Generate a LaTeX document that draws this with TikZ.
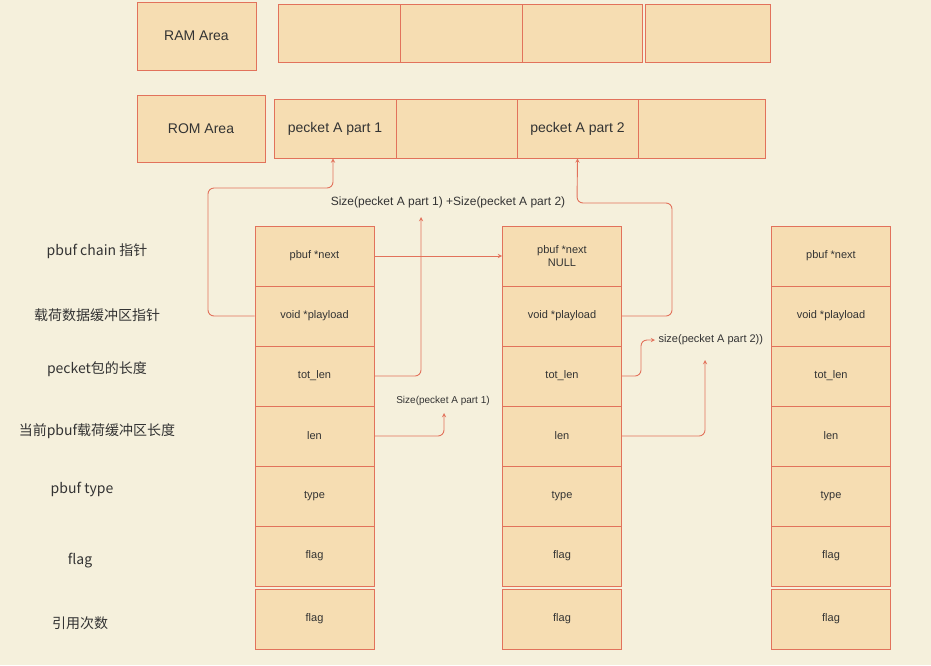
\documentclass[tikz,border=0pt]{standalone}
\usepackage{fontspec}
\setmainfont{Liberation Sans}
\newfontfamily\cjk{Noto Sans CJK SC}
\definecolor{bg}{HTML}{F5F0DC}
\definecolor{bx}{HTML}{F6DDB2}
\definecolor{ln}{HTML}{E2725B}
\definecolor{tx}{HTML}{333333}
\begin{document}
\begin{tikzpicture}[x=1pt,y=-1pt,
 cell/.style={draw=ln,fill=bx,line width=0.9pt,minimum width=119pt,minimum height=60pt,inner sep=0pt,font=\fontsize{11}{13}\selectfont,text=tx},
 blk/.style={draw=ln,fill=bx,line width=0.9pt,inner sep=0pt,font=\fontsize{14}{16}\selectfont,text=tx},
 lab/.style={font=\cjk\fontsize{14}{16}\selectfont,text=tx},
 arr/.style={draw=ln,line width=0.9pt,->,>=stealth,rounded corners=6pt}]
\fill[bg] (0,0) rectangle (931,665);
\useasboundingbox (0,0) rectangle (931,665);
% top areas
\node[blk,minimum width=119pt,minimum height=68pt] (ram) at (196.5,36) {RAM Area};
\foreach \a/\b [count=\i] in {278/400,400/522,522/642,645/770}
  \node[blk,minimum width={\b-\a},minimum height=58pt] (r\i) at ({(\a+\b)/2},33) {};
\node[blk,minimum width=128pt,minimum height=67pt] (rom) at (201,128.5) {ROM Area};
\node[blk,minimum width=122pt,minimum height=59pt] (o1) at (335,128.5) {pecket A part 1};
\node[blk,minimum width=121pt,minimum height=59pt] (o2) at (456.5,128.5) {};
\node[blk,minimum width=121pt,minimum height=59pt] (o3) at (577.5,128.5) {pecket A part 2};
\node[blk,minimum width=127pt,minimum height=59pt] (o4) at (701.5,128.5) {};
% left labels
\node[lab] (l1) at (97,251) {pbuf chain 指针};
\node[lab] (l2) at (97,315) {载荷数据缓冲区指针};
\node[lab] (l3) at (97,369) {pecket包的长度};
\node[lab] (l4) at (97,431) {当前pbuf载荷缓冲区长度};
\node[lab] (l5) at (82,489) {pbuf type};
\node[lab] (l6) at (80,561) {flag};
\node[lab] (l7) at (80,623) {引用次数};
% columns
\foreach \c/\x/\n in {a/314.5/pbuf *next,b/562/{pbuf *next\\NULL},c/831/pbuf *next}{
  \node[cell,align=center] (\c1) at (\x,256) {\n};
  \node[cell] (\c2) at (\x,316) {void *playload};
  \node[cell] (\c3) at (\x,376) {tot\_len};
  \node[cell] (\c4) at (\x,436) {len};
  \node[cell] (\c5) at (\x,496) {type};
  \node[cell] (\c6) at (\x,556) {flag};
  \node[cell] (\c7) at (\x,619) {flag};
}
% labels
\node[font=\fontsize{12}{14}\selectfont,text=tx] (s12) at (448,202) {Size(pecket A part 1) +Size(pecket A part 2)};
\node[font=\fontsize{10}{12}\selectfont,text=tx] (s1) at (443,401) {Size(pecket A part 1)};
\node[font=\fontsize{11}{13}\selectfont,text=tx,anchor=west] (s2) at (655,340) {size(pecket A part 2))};
\coordinate (t1) at (421,217);
\coordinate (t2) at (444,413);
\coordinate (t3) at (705,360);
% connectors
\draw[arr] (a1.east) -- (b1.east -| b1.west);
\draw[arr] (a2.west) -- (208,316) -- (208,188) -- (333,188) -- (o1.south -| 333,0);
\draw[arr] (a3.east) -- (421,376) -- (t1);
\draw[arr] (a4.east) -- (444,436) -- (t2);
\draw[arr] (b2.east) -- (672,316) -- (672,203) -- (577,203) -- (o3.south);
\draw[arr] (b3.east) -- (641,376) -- (641,340) -- (s2.west);
\draw[arr] (b4.east) -- (705,436) -- (t3);
\end{tikzpicture}
\end{document}
